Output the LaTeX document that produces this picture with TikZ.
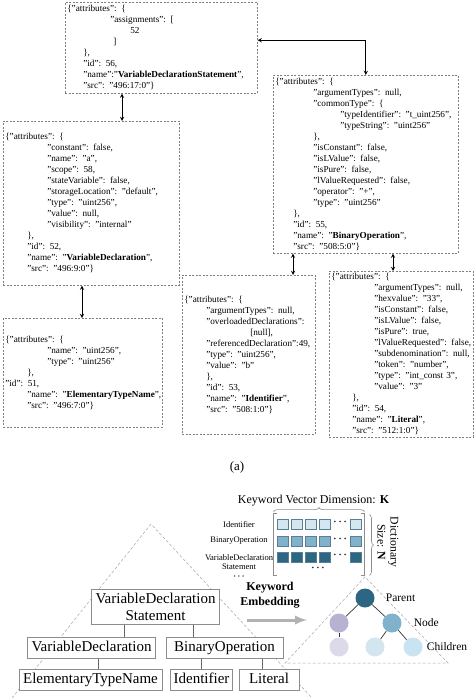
\documentclass[tikz,border=0pt]{standalone}
\usepackage{fontspec}
\setmainfont{Liberation Serif}
\usepackage{tikz}
\usetikzlibrary{calc,positioning,arrows,matrix,shapes,decorations.pathreplacing}
\definecolor{boxgray}{HTML}{7F7F7F}
\definecolor{trigray}{HTML}{A6A6A6}
\definecolor{treegray}{HTML}{8C8C8C}
\definecolor{celledge}{HTML}{5C7E91}
\definecolor{kwone}{HTML}{D3E7F1}
\definecolor{kwtwo}{HTML}{80B3CB}
\definecolor{kwthree}{HTML}{2D6682}
\definecolor{lavender}{HTML}{B6B2D2}
\definecolor{palelav}{HTML}{DCD9EA}
\definecolor{paleblue}{HTML}{D3E6F0}
\definecolor{skyblue}{HTML}{C8E4F2}
\newcommand{\jl}[2]{\hspace*{#1pt}\mbox{#2}}
\newcommand{\jsonfont}{\fontsize{9.2}{11}\selectfont}
\newcommand{\bdots}{{\boldmath$\cdots$}}

\begin{document}
\begin{tikzpicture}[x=1pt,y=-1pt,
   json/.style={draw=boxgray,dash pattern=on 2pt off 1.5pt,line width=0.6pt,anchor=north west,align=left,inner sep=2pt,font=\jsonfont},
   link/.style={stealth-stealth,line width=0.9pt},
   astbox/.style={draw=treegray,fill=white,line width=0.6pt,inner xsep=4pt,inner ysep=3.5pt,font=\fontsize{15}{17}\selectfont},
   astone/.style={astbox,text height=10.5pt,text depth=3.5pt},
   astline/.style={black!60,line width=0.8pt},
   tri/.style={trigray,dash pattern=on 3pt off 2pt,line width=0.5pt},
   cell/.style={draw=celledge,line width=0.4pt,minimum width=11pt,minimum height=10pt,inner sep=0pt},
   dotcell/.style={fill=none,draw=none,inner sep=0pt,font=\normalsize},
   rowlbl/.style={font=\fontsize{8.5}{9.3}\selectfont,inner sep=0pt},
   bracket/.style={treegray,line width=0.6pt},
   bracedec/.style={decorate,decoration={brace,amplitude=4pt},treegray,line width=0.6pt},
   leaf/.style={circle,minimum size=19pt,inner sep=0pt},
   twig/.style={line width=0.7pt,black!80},
   treelbl/.style={font=\fontsize{11.5}{13}\selectfont,inner sep=1pt}]
\useasboundingbox (0,0) rectangle (474,698);

\node[json,text width=188pt,minimum height=91pt] (stmt) at (65,2) {%
\jl{0}{\{"attributes": \{}\\
\jl{43}{"assignments": [}\\
\jl{63}{52}\\
\jl{46}{]}\\
\jl{16}{\},}\\
\jl{16}{"id": 56,}\\
\jl{16}{"name":"\textbf{VariableDeclarationStatement}",}\\
\jl{16}{"src": "496:17:0"\}}};

\node[json,text width=172pt,minimum height=164pt] (decl) at (3,121) {%
\jl{0}{\{"attributes": \{}\\
\jl{42}{"constant": false,}\\
\jl{42}{"name": "a",}\\
\jl{42}{"scope": 58,}\\
\jl{42}{"stateVariable": false,}\\
\jl{42}{"storageLocation": "default",}\\
\jl{42}{"type": "uint256",}\\
\jl{42}{"value": null,}\\
\jl{42}{"visibility": "internal"}\\
\jl{22}{\},}\\
\jl{22}{"id": 52,}\\
\jl{22}{"name": "\textbf{VariableDeclaration}",}\\
\jl{22}{"src": "496:9:0"\}}};

\node[json,text width=155pt,minimum height=109pt] (etn) at (3,318) {%
\jl{0}{\{"attributes": \{}\\
\jl{42}{"name": "uint256",}\\
\jl{42}{"type": "uint256"}\\
\jl{22}{\},}\\
\jl{0}{"id": 51,}\\
\jl{22}{"name": "\textbf{ElementaryTypeName}",}\\
\jl{22}{"src": "496:7:0"\}}};

\node[json,text width=181pt,minimum height=178pt] (binop) at (273,75) {%
\jl{0}{\{"attributes": \{}\\
\jl{38}{"argumentTypes": null,}\\
\jl{38}{"commonType": \{}\\
\jl{65}{"typeIdentifier": "t\_uint256",}\\
\jl{65}{"typeString": "uint256"}\\
\jl{38}{\},}\\
\jl{38}{"isConstant": false,}\\
\jl{38}{"isLValue": false,}\\
\jl{38}{"isPure": false,}\\
\jl{38}{"lValueRequested": false,}\\
\jl{38}{"operator": "+",}\\
\jl{38}{"type": "uint256"}\\
\jl{18}{\},}\\
\jl{18}{"id": 55,}\\
\jl{18}{"name": "\textbf{BinaryOperation}",}\\
\jl{18}{"src": "508:5:0"\}}};

\node[json,text width=129pt,minimum height=159pt] (ident) at (182,275) {%
\jl{0}{\{"attributes": \{}\\
\jl{22}{"argumentTypes": null,}\\
\jl{22}{"overloadedDeclarations":}\\
\jl{66}{[null],}\\
\jl{22}{"referencedDeclaration":49,}\\
\jl{22}{"type": "uint256",}\\
\jl{22}{"value": "b"}\\
\jl{22}{\},}\\
\jl{22}{"id": 53,}\\
\jl{22}{"name": "\textbf{Identifier}",}\\
\jl{22}{"src": "508:1:0"\}}};

\node[json,text width=140pt,minimum height=163pt] (lit) at (329,271) {%
\jl{0}{\{"attributes": \{}\\
\jl{43}{"argumentTypes": null,}\\
\jl{43}{"hexvalue": "33",}\\
\jl{43}{"isConstant": false,}\\
\jl{43}{"isLValue": false,}\\
\jl{43}{"isPure": true,}\\
\jl{43}{"lValueRequested": false,}\\
\jl{43}{"subdenomination": null,}\\
\jl{43}{"token": "number",}\\
\jl{43}{"type": "int\_const 3",}\\
\jl{43}{"value": "3"}\\
\jl{21}{\},}\\
\jl{21}{"id": 54,}\\
\jl{21}{"name": "\textbf{Literal}",}\\
\jl{21}{"src": "512:1:0"\}}};

\draw[link] ([xshift=57pt]stmt.south west) -- ([xshift=57pt]stmt.south west |- decl.north);
\draw[link] ([xshift=79pt]decl.south west) -- ([xshift=79pt]decl.south west |- etn.north);
\draw[link] ([yshift=7.5pt]stmt.east) -| (binop.north);
\draw[link] ([xshift=20pt]binop.south west) -- ([xshift=20pt]binop.south west |- ident.north);
\draw[link] ([xshift=120pt]binop.south west) -- ([xshift=120pt]binop.south west |- lit.north);

\node[font=\fontsize{13}{15}\selectfont] (caption) at (237,467) {(a)};

\matrix (kw) [matrix of nodes,nodes in empty cells,nodes={cell},column sep=2.7pt,row sep=4pt,
   row 1/.style={nodes={fill=kwone}},row 2/.style={nodes={fill=kwtwo}},row 3/.style={nodes={fill=kwthree}}] at (319,540) {
   & & & & |[dotcell]| \bdots & \\
   & & & & |[dotcell]| \bdots & \\
   & & & & |[dotcell]| \bdots & \\};
\draw[bracket] ([xshift=3pt]kw.north west) -- (kw.north west) -- ([yshift=-9pt]kw.south west) -- ++(3,0);
\draw[bracket] ([xshift=-3pt]kw.north east) -- (kw.north east) -- ([yshift=-9pt]kw.south east) -- ++(-3,0);
\draw[bracedec] ([yshift=2pt]kw.north west) -- ([yshift=2pt]kw.north east);
\draw[bracedec] ([xshift=5pt,yshift=-1pt]kw.north east) -- ([xshift=5pt,yshift=-9pt]kw.south east);
\node[font=\fontsize{12}{13}\selectfont,above=4pt of kw.north,xshift=-5.5pt] (kwtitle) {Keyword Vector Dimension: \textbf{K}};
\node[font=\fontsize{11.7}{13}\selectfont,rotate=-90,align=center] (dictsize) at (388,542) {Dictionary\\Size: \textbf{N}};
\coordinate (lblx) at (239,0);
\node[rowlbl] (lblid) at (kw-1-1 -| lblx) {Identifier};
\node[rowlbl] (lblbin) at (kw-2-1 -| lblx) {BinaryOperation};
\node[rowlbl,align=center,anchor=north] (lblvd) at ([yshift=3.5pt]kw-3-1.center -| lblx) {VariableDeclaration\\Statement\\\bdots};
\node[dotcell,below=3pt] (kwmore) at ($(kw-3-3.south)!0.5!(kw-3-4.south)$) {\bdots};

\draw[tri] (12,698) -- (151,524) -- (312,698);
\draw[tri] (365,577) -- (285,663) -- (448,663) -- cycle;

\node[astbox,align=center] (vds) at (155.5,607) {VariableDeclaration\\Statement};
\node[astone] (vd) at (91.5,648) {VariableDeclaration};
\node[astone,minimum width=117pt] (bin) at (224.5,648) {BinaryOperation};
\node[astone] (etype) at (90.5,680) {ElementaryTypeName};
\node[astone,inner xsep=3pt] (idf) at (201.5,680) {Identifier};
\node[astone,minimum width=60pt] (ltr) at (269,680) {Literal};
\draw[astline] ([xshift=-31.5pt]vds.south) -- ([xshift=-31.5pt]vds.south |- vd.north);
\draw[astline] ([xshift=37.5pt]vds.south) -- ([xshift=37.5pt]vds.south |- bin.north);
\draw[astline] ([xshift=6.5pt]vd.south) -- ([xshift=6.5pt]vd.south |- etype.north);
\draw[astline] (idf.north |- bin.south) -- (idf.north);
\draw[astline] ([xshift=-7pt]ltr.north |- bin.south) -- ([xshift=-7pt]ltr.north);

\node[font=\bfseries\fontsize{12}{15}\selectfont,align=center] (kwemb) at (270,595) {Keyword\\Embedding};
\draw[-latex,line width=3pt,black!30] ([xshift=-23pt,yshift=-8.5pt]kwemb.south) -- ++(60,0);

\node[leaf,fill=kwthree] (parent) at (365,598) {};
\node[leaf,fill=lavender] (lchild) at (339,623) {};
\node[leaf,fill=kwtwo] (rchild) at (392,623) {};
\node[leaf,fill=palelav] (gca) at (339,647) {};
\node[leaf,fill=paleblue] (gcb) at (375,647) {};
\node[leaf,fill=skyblue] (gcc) at (413,647) {};
\draw[twig] (parent) -- (lchild);
\draw[twig] (parent) -- (rchild);
\draw[twig] (lchild) -- (gca);
\draw[twig] (rchild) -- (gcb);
\draw[twig] (rchild) -- (gcc);
\node[treelbl,right=10pt of parent] (lblparent) {Parent};
\node[treelbl,right=11pt of rchild] (lblnode) {Node};
\node[treelbl,right=3pt of gcc] (lblchildren) {Children};
\end{tikzpicture}
\end{document}
